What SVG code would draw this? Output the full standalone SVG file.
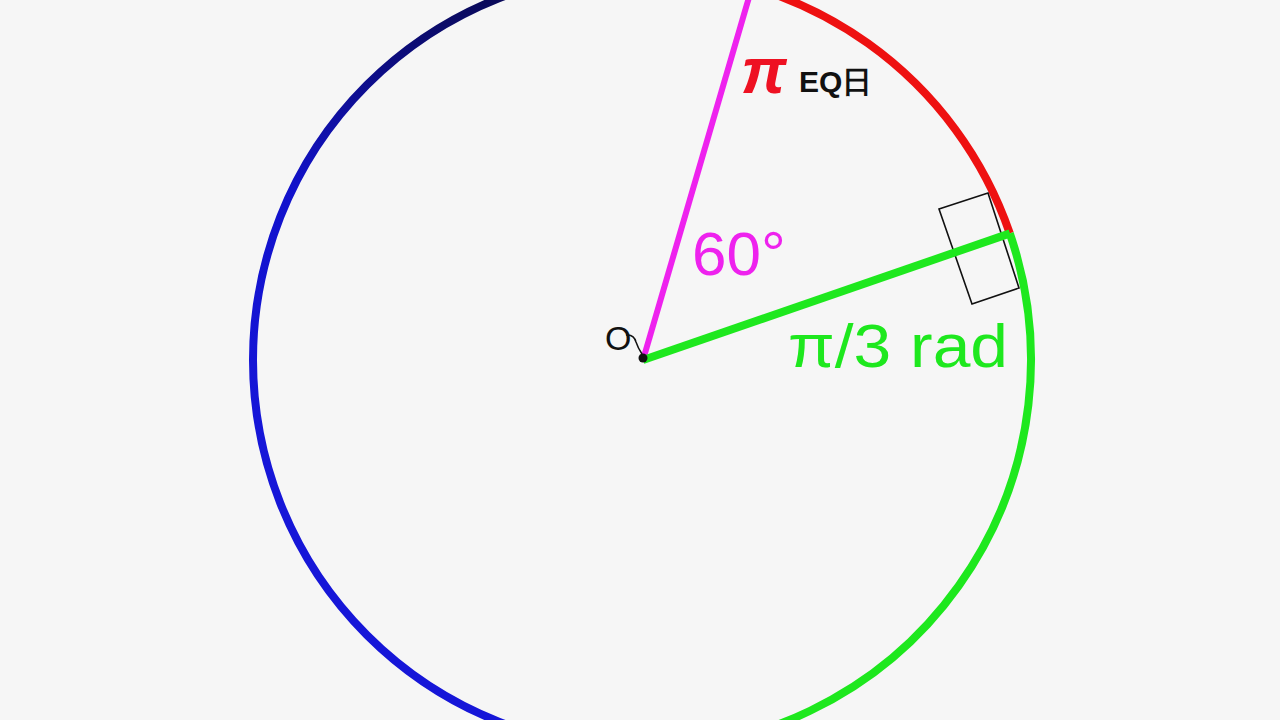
<svg xmlns="http://www.w3.org/2000/svg" width="1280" height="720" viewBox="0 0 1280 720">
<defs>
<linearGradient id="blueGrad" gradientUnits="userSpaceOnUse" x1="0" y1="0" x2="0" y2="420">
<stop offset="0" stop-color="#0a0a5a"/>
<stop offset="0.45" stop-color="#1212cc"/>
<stop offset="1" stop-color="#1616d8"/>
</linearGradient>
<style>
.arc{fill:none;stroke-width:8;stroke-linecap:butt}
.lbl{font-family:"Liberation Sans",Arial,sans-serif}
</style>
</defs>
<rect width="1280" height="720" fill="#f6f6f6"/>
<g id="circle">
<path class="arc" d="M642,749 A389,389 0 0 1 642,-29" stroke="url(#blueGrad)"/>
<path class="arc" d="M642,-29 A389,389 0 0 1 1009.8,233.4" stroke="#ee1111"/>
<path class="arc" d="M1009.8,233.4 A389,389 0 0 1 642,749" stroke="#1ee81e"/>
</g>
<g id="right-angle-mark">
<polygon points="939,209 988,193 1019,288 972,304" fill="none" stroke="#111" stroke-width="1.6"/>
</g>
<g id="connectors">
<line x1="643" y1="360" x2="752" y2="-13" stroke="#ee22ee" stroke-width="6"/>
<line x1="643" y1="360" x2="1010" y2="233.4" stroke="#1ee81e" stroke-width="8"/>
<path d="M626,335 q8,-1 10,7 q2,6 6,12" fill="none" stroke="#111" stroke-width="1.5"/>
</g>
<g id="center">
<circle cx="643" cy="358" r="4.5" fill="#111"/>
<text class="lbl" x="605" y="350" font-size="34" fill="#111">O</text>
</g>
<g id="labels">
<text class="lbl" x="741" y="93" font-size="64" font-weight="bold" font-style="italic" fill="#ee1122">π</text>
<text class="lbl" x="799" y="92" font-size="30" font-weight="bold" fill="#111">EQ日</text>
<text class="lbl" x="692" y="275" font-size="62" fill="#ee22ee">60°</text>
<text class="lbl" x="788" y="367" font-size="62" fill="#1ee81e" textLength="220" lengthAdjust="spacingAndGlyphs">π/3 rad</text>
</g>
</svg>
